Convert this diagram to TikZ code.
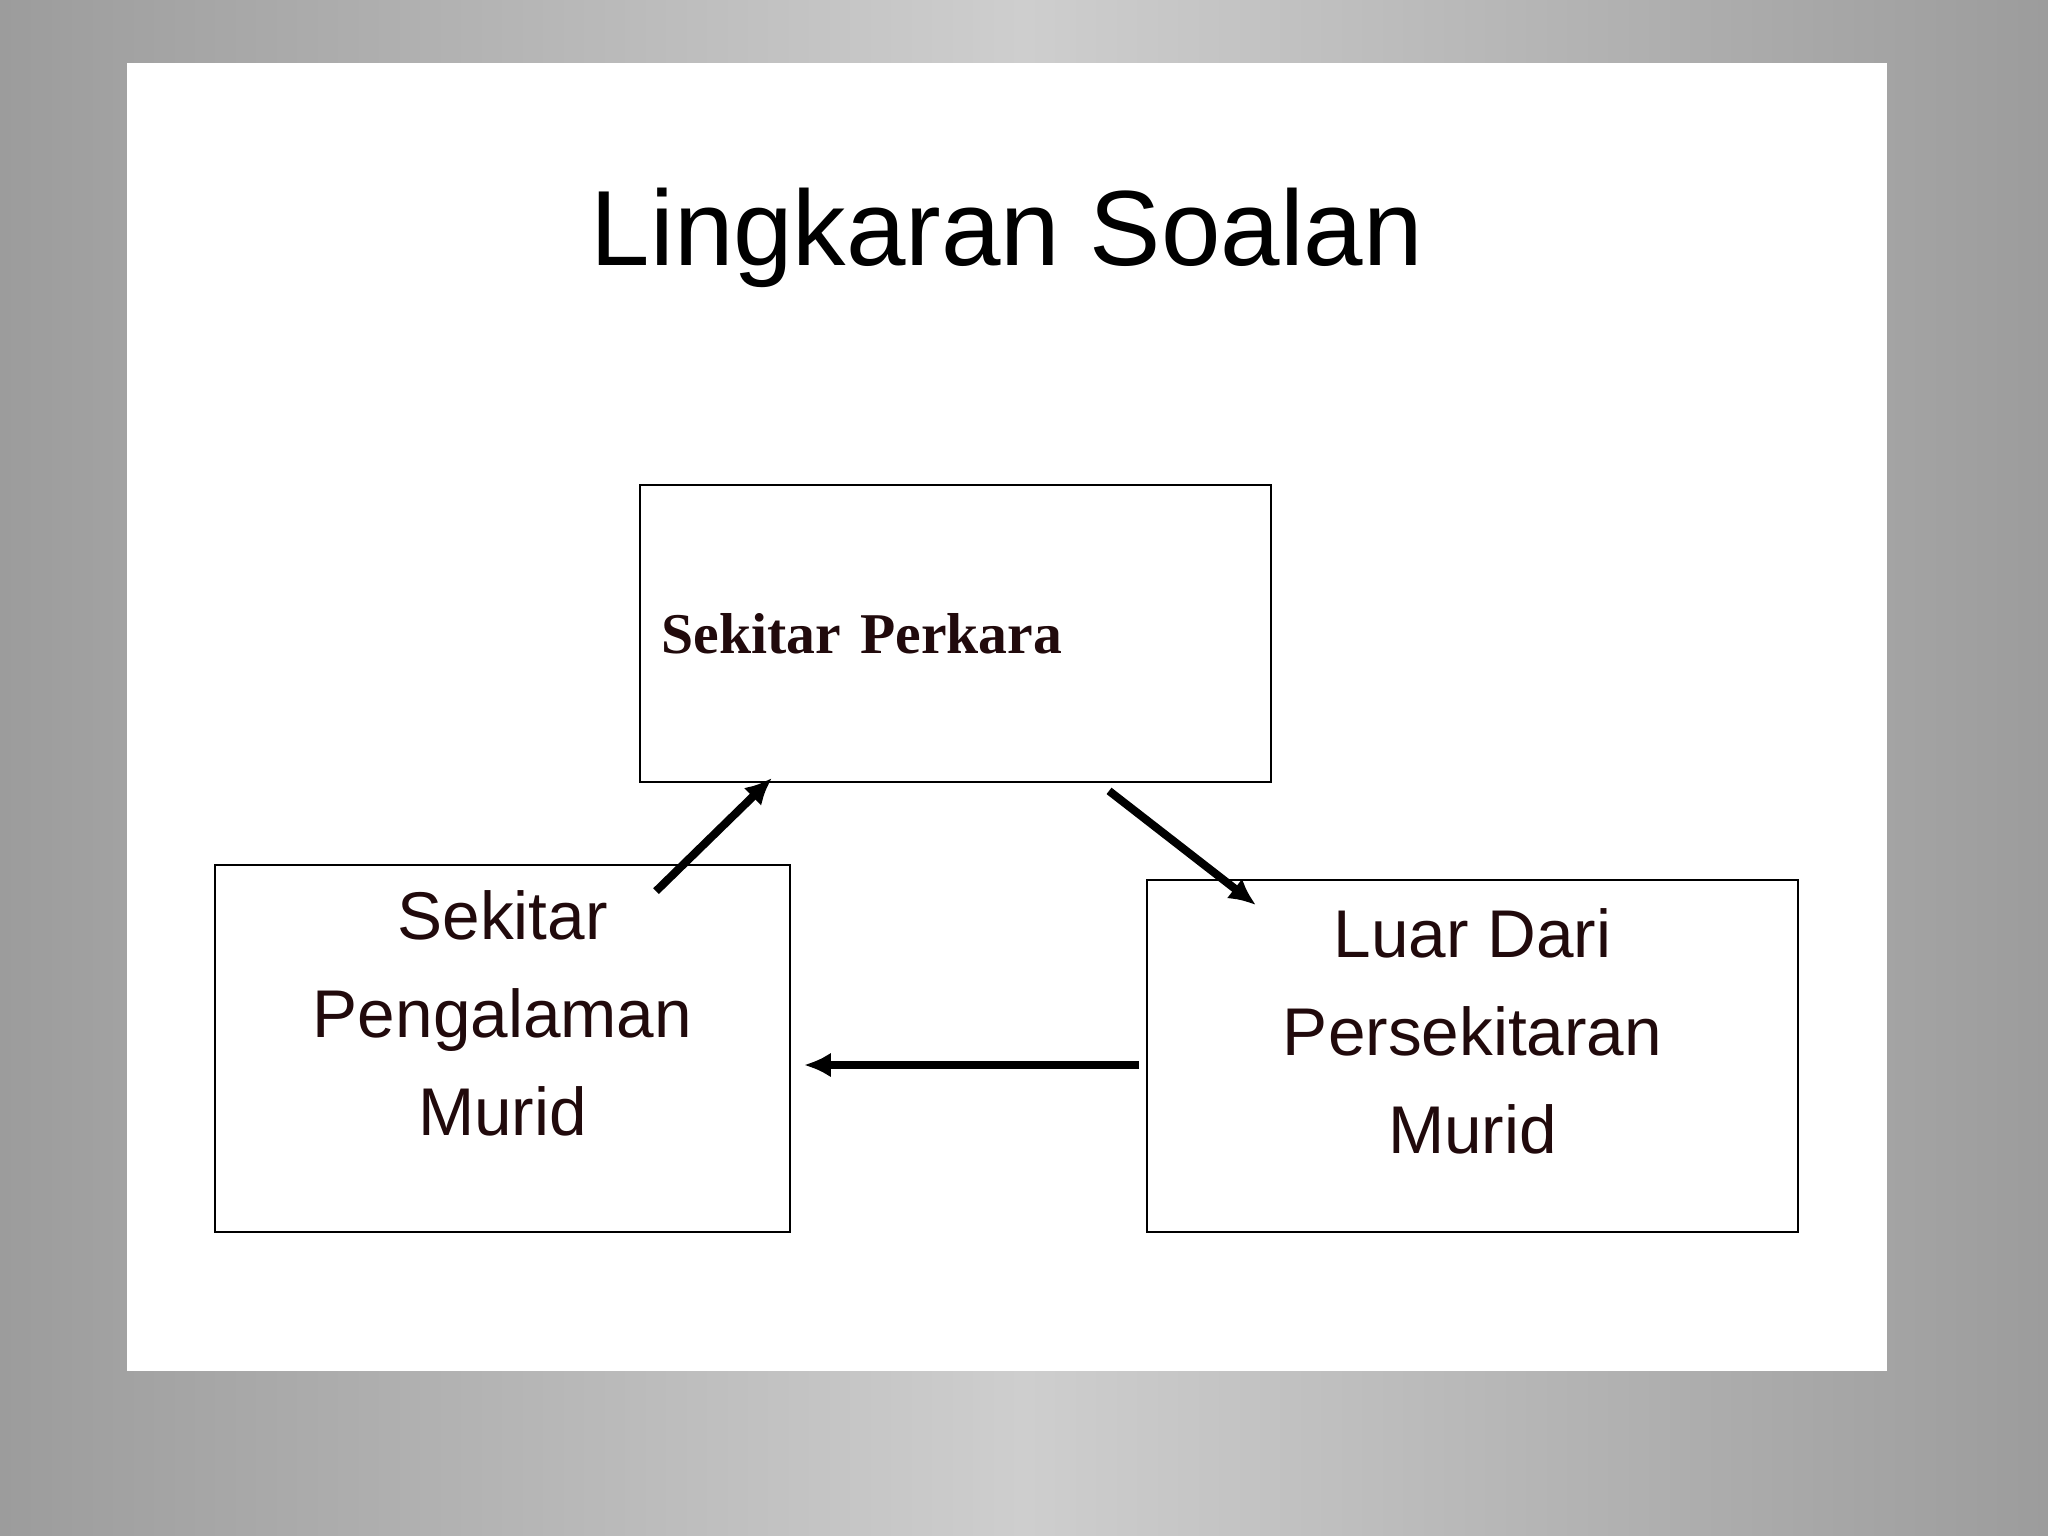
\documentclass[tikz,border=0pt]{standalone}
\usepackage{fontspec}
\setmainfont{Liberation Serif}
\setsansfont{Liberation Sans}
\definecolor{SlideGray}{RGB}{156, 156, 156}
\definecolor{SlideLight}{RGB}{206, 206, 206}
\definecolor{TextDark}{RGB}{33, 10, 12}
\usetikzlibrary{arrows.meta, positioning, calc}

\begin{document}
\begin{tikzpicture}[
        x=0.01cm, y=-0.01cm,
        % Styles
        box/.style={rectangle, draw=black, line width=0.45pt, fill=white, inner sep=0pt},
        boxtext/.style={text=TextDark, font=\sffamily\fontsize{19.2}{27.9}\selectfont, align=center, inner sep=0pt},
        line/.style={draw, -{Latex[length=0.27cm, width=0.25cm]}, line width=2.3pt, black}
    ]
        % Background
        \useasboundingbox (0,0) rectangle (2048,1536);
        \shade [left color=SlideGray, right color=SlideGray, middle color=SlideLight] (0,0) rectangle (2048,1536);
        \fill [white] (127,63) rectangle (1887,1371);

        % Title
        \node [anchor=base, font=\sffamily\fontsize{30.4}{36}\selectfont] (title) at (1007,265) {Lingkaran Soalan};

        % Nodes
        \node [box, minimum width=6.31cm, minimum height=2.97cm, text width=5.87cm, align=left, text=TextDark, font=\bfseries\fontsize{16.4}{20}\selectfont] (perkara) at (955.5,633.5) {Sekitar Perkara};
        \node [box, minimum width=5.75cm, minimum height=3.67cm] (pengalaman) at (502.5,1048.5) {};
        \node [box, minimum width=6.51cm, minimum height=3.52cm] (luar) at (1472.5,1056) {};

        \node [boxtext, below=0.26cm of pengalaman.north] (pengalamanText) {Sekitar\\Pengalaman\\Murid};
        \node [boxtext, below=0.285cm of luar.north] (luarText) {Luar Dari\\Persekitaran\\Murid};

        % Paths
        \coordinate (upStart) at ($(pengalaman.north west)+(442,27)$);
        \coordinate (upEnd) at ($(perkara.south west)+(133,-5)$);
        \coordinate (downStart) at ($(perkara.south west)+(470,8)$);
        \coordinate (downEnd) at ($(luar.north west)+(110,26)$);

        \path [line] (upStart) -- (upEnd);
        \path [line] (downStart) -- (downEnd);
        \path [line] ($(luar.west)+(-7,9)$) -- ($(pengalaman.east)+(13,16.5)$);
    \end{tikzpicture}
\end{document}
